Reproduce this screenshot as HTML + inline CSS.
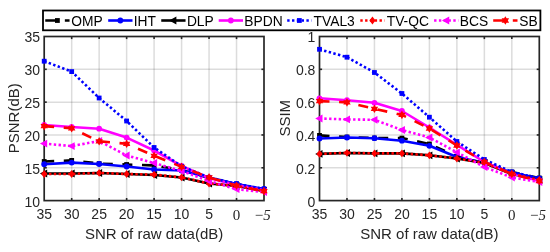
<!DOCTYPE html>
<html><head><meta charset="utf-8"><style>
html,body{margin:0;padding:0;background:#fff;}
body{width:550px;height:252px;overflow:hidden;}
svg{display:block;}
text{font-family:"Liberation Sans",Arial,Helvetica,sans-serif;fill:#000;}
.tk{font-size:14px;fill:#262626;}
.sf{font-family:"Liberation Serif","Times New Roman",serif;font-size:15px;fill:#262626;}
.lb{font-size:15px;fill:#262626;}
.lg{font-size:13.8px;}
</style></head><body>
<svg width="550" height="252" viewBox="0 0 550 252">
<rect width="550" height="252" fill="#fff"/>
<line x1="71.68" y1="36.5" x2="71.68" y2="200.6" stroke="#262626" stroke-opacity="0.16" stroke-width="1.5"/>
<line x1="99.15" y1="36.5" x2="99.15" y2="200.6" stroke="#262626" stroke-opacity="0.16" stroke-width="1.5"/>
<line x1="126.63" y1="36.5" x2="126.63" y2="200.6" stroke="#262626" stroke-opacity="0.16" stroke-width="1.5"/>
<line x1="154.10" y1="36.5" x2="154.10" y2="200.6" stroke="#262626" stroke-opacity="0.16" stroke-width="1.5"/>
<line x1="181.57" y1="36.5" x2="181.57" y2="200.6" stroke="#262626" stroke-opacity="0.16" stroke-width="1.5"/>
<line x1="209.05" y1="36.5" x2="209.05" y2="200.6" stroke="#262626" stroke-opacity="0.16" stroke-width="1.5"/>
<line x1="236.53" y1="36.5" x2="236.53" y2="200.6" stroke="#262626" stroke-opacity="0.16" stroke-width="1.5"/>
<line x1="44.2" y1="69.32" x2="264" y2="69.32" stroke="#262626" stroke-opacity="0.16" stroke-width="1.5"/>
<line x1="44.2" y1="102.14" x2="264" y2="102.14" stroke="#262626" stroke-opacity="0.16" stroke-width="1.5"/>
<line x1="44.2" y1="134.96" x2="264" y2="134.96" stroke="#262626" stroke-opacity="0.16" stroke-width="1.5"/>
<line x1="44.2" y1="167.78" x2="264" y2="167.78" stroke="#262626" stroke-opacity="0.16" stroke-width="1.5"/>
<line x1="346.98" y1="36.5" x2="346.98" y2="200.6" stroke="#262626" stroke-opacity="0.16" stroke-width="1.5"/>
<line x1="374.45" y1="36.5" x2="374.45" y2="200.6" stroke="#262626" stroke-opacity="0.16" stroke-width="1.5"/>
<line x1="401.92" y1="36.5" x2="401.92" y2="200.6" stroke="#262626" stroke-opacity="0.16" stroke-width="1.5"/>
<line x1="429.40" y1="36.5" x2="429.40" y2="200.6" stroke="#262626" stroke-opacity="0.16" stroke-width="1.5"/>
<line x1="456.88" y1="36.5" x2="456.88" y2="200.6" stroke="#262626" stroke-opacity="0.16" stroke-width="1.5"/>
<line x1="484.35" y1="36.5" x2="484.35" y2="200.6" stroke="#262626" stroke-opacity="0.16" stroke-width="1.5"/>
<line x1="511.82" y1="36.5" x2="511.82" y2="200.6" stroke="#262626" stroke-opacity="0.16" stroke-width="1.5"/>
<line x1="319.5" y1="69.32" x2="539.3" y2="69.32" stroke="#262626" stroke-opacity="0.16" stroke-width="1.5"/>
<line x1="319.5" y1="102.14" x2="539.3" y2="102.14" stroke="#262626" stroke-opacity="0.16" stroke-width="1.5"/>
<line x1="319.5" y1="134.96" x2="539.3" y2="134.96" stroke="#262626" stroke-opacity="0.16" stroke-width="1.5"/>
<line x1="319.5" y1="167.78" x2="539.3" y2="167.78" stroke="#262626" stroke-opacity="0.16" stroke-width="1.5"/>
<line x1="71.68" y1="200.6" x2="71.68" y2="198.0" stroke="#262626" stroke-width="1.6"/>
<line x1="71.68" y1="36.5" x2="71.68" y2="39.1" stroke="#262626" stroke-width="1.6"/>
<line x1="99.15" y1="200.6" x2="99.15" y2="198.0" stroke="#262626" stroke-width="1.6"/>
<line x1="99.15" y1="36.5" x2="99.15" y2="39.1" stroke="#262626" stroke-width="1.6"/>
<line x1="126.63" y1="200.6" x2="126.63" y2="198.0" stroke="#262626" stroke-width="1.6"/>
<line x1="126.63" y1="36.5" x2="126.63" y2="39.1" stroke="#262626" stroke-width="1.6"/>
<line x1="154.10" y1="200.6" x2="154.10" y2="198.0" stroke="#262626" stroke-width="1.6"/>
<line x1="154.10" y1="36.5" x2="154.10" y2="39.1" stroke="#262626" stroke-width="1.6"/>
<line x1="181.57" y1="200.6" x2="181.57" y2="198.0" stroke="#262626" stroke-width="1.6"/>
<line x1="181.57" y1="36.5" x2="181.57" y2="39.1" stroke="#262626" stroke-width="1.6"/>
<line x1="209.05" y1="200.6" x2="209.05" y2="198.0" stroke="#262626" stroke-width="1.6"/>
<line x1="209.05" y1="36.5" x2="209.05" y2="39.1" stroke="#262626" stroke-width="1.6"/>
<line x1="236.53" y1="200.6" x2="236.53" y2="198.0" stroke="#262626" stroke-width="1.6"/>
<line x1="236.53" y1="36.5" x2="236.53" y2="39.1" stroke="#262626" stroke-width="1.6"/>
<line x1="44.2" y1="69.32" x2="46.800000000000004" y2="69.32" stroke="#262626" stroke-width="1.6"/>
<line x1="264" y1="69.32" x2="261.4" y2="69.32" stroke="#262626" stroke-width="1.6"/>
<line x1="44.2" y1="102.14" x2="46.800000000000004" y2="102.14" stroke="#262626" stroke-width="1.6"/>
<line x1="264" y1="102.14" x2="261.4" y2="102.14" stroke="#262626" stroke-width="1.6"/>
<line x1="44.2" y1="134.96" x2="46.800000000000004" y2="134.96" stroke="#262626" stroke-width="1.6"/>
<line x1="264" y1="134.96" x2="261.4" y2="134.96" stroke="#262626" stroke-width="1.6"/>
<line x1="44.2" y1="167.78" x2="46.800000000000004" y2="167.78" stroke="#262626" stroke-width="1.6"/>
<line x1="264" y1="167.78" x2="261.4" y2="167.78" stroke="#262626" stroke-width="1.6"/>
<rect x="44.2" y="36.5" width="219.80" height="164.10" fill="none" stroke="#262626" stroke-width="1.7"/>
<line x1="346.98" y1="200.6" x2="346.98" y2="198.0" stroke="#262626" stroke-width="1.6"/>
<line x1="346.98" y1="36.5" x2="346.98" y2="39.1" stroke="#262626" stroke-width="1.6"/>
<line x1="374.45" y1="200.6" x2="374.45" y2="198.0" stroke="#262626" stroke-width="1.6"/>
<line x1="374.45" y1="36.5" x2="374.45" y2="39.1" stroke="#262626" stroke-width="1.6"/>
<line x1="401.92" y1="200.6" x2="401.92" y2="198.0" stroke="#262626" stroke-width="1.6"/>
<line x1="401.92" y1="36.5" x2="401.92" y2="39.1" stroke="#262626" stroke-width="1.6"/>
<line x1="429.40" y1="200.6" x2="429.40" y2="198.0" stroke="#262626" stroke-width="1.6"/>
<line x1="429.40" y1="36.5" x2="429.40" y2="39.1" stroke="#262626" stroke-width="1.6"/>
<line x1="456.88" y1="200.6" x2="456.88" y2="198.0" stroke="#262626" stroke-width="1.6"/>
<line x1="456.88" y1="36.5" x2="456.88" y2="39.1" stroke="#262626" stroke-width="1.6"/>
<line x1="484.35" y1="200.6" x2="484.35" y2="198.0" stroke="#262626" stroke-width="1.6"/>
<line x1="484.35" y1="36.5" x2="484.35" y2="39.1" stroke="#262626" stroke-width="1.6"/>
<line x1="511.82" y1="200.6" x2="511.82" y2="198.0" stroke="#262626" stroke-width="1.6"/>
<line x1="511.82" y1="36.5" x2="511.82" y2="39.1" stroke="#262626" stroke-width="1.6"/>
<line x1="319.5" y1="69.32" x2="322.1" y2="69.32" stroke="#262626" stroke-width="1.6"/>
<line x1="539.3" y1="69.32" x2="536.6999999999999" y2="69.32" stroke="#262626" stroke-width="1.6"/>
<line x1="319.5" y1="102.14" x2="322.1" y2="102.14" stroke="#262626" stroke-width="1.6"/>
<line x1="539.3" y1="102.14" x2="536.6999999999999" y2="102.14" stroke="#262626" stroke-width="1.6"/>
<line x1="319.5" y1="134.96" x2="322.1" y2="134.96" stroke="#262626" stroke-width="1.6"/>
<line x1="539.3" y1="134.96" x2="536.6999999999999" y2="134.96" stroke="#262626" stroke-width="1.6"/>
<line x1="319.5" y1="167.78" x2="322.1" y2="167.78" stroke="#262626" stroke-width="1.6"/>
<line x1="539.3" y1="167.78" x2="536.6999999999999" y2="167.78" stroke="#262626" stroke-width="1.6"/>
<rect x="319.5" y="36.5" width="219.80" height="164.10" fill="none" stroke="#262626" stroke-width="1.7"/>
<polyline points="44.20,161.50 71.68,160.40 99.15,163.60 126.63,164.50 154.10,165.50 181.57,170.00 209.05,178.00 236.53,184.00 264.00,190.00" fill="none" stroke="#000" stroke-width="2.6" stroke-dasharray="10 9.6" stroke-linejoin="round"/>
<rect x="41.80" y="159.10" width="4.8" height="4.8" fill="#000"/>
<rect x="69.28" y="158.00" width="4.8" height="4.8" fill="#000"/>
<rect x="96.75" y="161.20" width="4.8" height="4.8" fill="#000"/>
<rect x="124.23" y="162.10" width="4.8" height="4.8" fill="#000"/>
<rect x="151.70" y="163.10" width="4.8" height="4.8" fill="#000"/>
<rect x="179.17" y="167.60" width="4.8" height="4.8" fill="#000"/>
<rect x="206.65" y="175.60" width="4.8" height="4.8" fill="#000"/>
<rect x="234.13" y="181.60" width="4.8" height="4.8" fill="#000"/>
<rect x="261.60" y="187.60" width="4.8" height="4.8" fill="#000"/>
<polyline points="44.20,164.20 71.68,162.60 99.15,164.00 126.63,166.50 154.10,169.50 181.57,170.50 209.05,177.50 236.53,184.00 264.00,189.00" fill="none" stroke="#0000ff" stroke-width="2.6" stroke-linejoin="round"/>
<circle cx="44.20" cy="164.20" r="2.9" fill="#0000ff"/>
<circle cx="71.68" cy="162.60" r="2.9" fill="#0000ff"/>
<circle cx="99.15" cy="164.00" r="2.9" fill="#0000ff"/>
<circle cx="126.63" cy="166.50" r="2.9" fill="#0000ff"/>
<circle cx="154.10" cy="169.50" r="2.9" fill="#0000ff"/>
<circle cx="181.57" cy="170.50" r="2.9" fill="#0000ff"/>
<circle cx="209.05" cy="177.50" r="2.9" fill="#0000ff"/>
<circle cx="236.53" cy="184.00" r="2.9" fill="#0000ff"/>
<circle cx="264.00" cy="189.00" r="2.9" fill="#0000ff"/>
<polyline points="44.20,173.50 71.68,173.50 99.15,173.00 126.63,174.00 154.10,175.00 181.57,177.50 209.05,183.50 236.53,186.00 264.00,191.00" fill="none" stroke="#000" stroke-width="2.6" stroke-linejoin="round"/>
<polygon points="39.90,173.50 47.20,169.60 47.20,177.40" fill="#000"/>
<polygon points="67.38,173.50 74.68,169.60 74.68,177.40" fill="#000"/>
<polygon points="94.85,173.00 102.15,169.10 102.15,176.90" fill="#000"/>
<polygon points="122.33,174.00 129.62,170.10 129.62,177.90" fill="#000"/>
<polygon points="149.80,175.00 157.10,171.10 157.10,178.90" fill="#000"/>
<polygon points="177.27,177.50 184.57,173.60 184.57,181.40" fill="#000"/>
<polygon points="204.75,183.50 212.05,179.60 212.05,187.40" fill="#000"/>
<polygon points="232.23,186.00 239.53,182.10 239.53,189.90" fill="#000"/>
<polygon points="259.70,191.00 267.00,187.10 267.00,194.90" fill="#000"/>
<polyline points="44.20,125.00 71.68,127.00 99.15,128.70 126.63,137.60 154.10,150.50 181.57,166.00 209.05,178.00 236.53,185.00 264.00,190.00" fill="none" stroke="#ff00ff" stroke-width="2.6" stroke-linejoin="round"/>
<circle cx="44.20" cy="125.00" r="2.9" fill="#ff00ff"/>
<circle cx="71.68" cy="127.00" r="2.9" fill="#ff00ff"/>
<circle cx="99.15" cy="128.70" r="2.9" fill="#ff00ff"/>
<circle cx="126.63" cy="137.60" r="2.9" fill="#ff00ff"/>
<circle cx="154.10" cy="150.50" r="2.9" fill="#ff00ff"/>
<circle cx="181.57" cy="166.00" r="2.9" fill="#ff00ff"/>
<circle cx="209.05" cy="178.00" r="2.9" fill="#ff00ff"/>
<circle cx="236.53" cy="185.00" r="2.9" fill="#ff00ff"/>
<circle cx="264.00" cy="190.00" r="2.9" fill="#ff00ff"/>
<polyline points="44.20,61.20 71.68,71.60 99.15,98.00 126.63,121.00 154.10,147.50 181.57,166.30 209.05,177.50 236.53,183.80 264.00,189.00" fill="none" stroke="#0000ff" stroke-width="2.6" stroke-dasharray="2.4 2.4" stroke-linejoin="round"/>
<rect x="41.80" y="58.80" width="4.8" height="4.8" fill="#0000ff"/>
<rect x="69.28" y="69.20" width="4.8" height="4.8" fill="#0000ff"/>
<rect x="96.75" y="95.60" width="4.8" height="4.8" fill="#0000ff"/>
<rect x="124.23" y="118.60" width="4.8" height="4.8" fill="#0000ff"/>
<rect x="151.70" y="145.10" width="4.8" height="4.8" fill="#0000ff"/>
<rect x="179.17" y="163.90" width="4.8" height="4.8" fill="#0000ff"/>
<rect x="206.65" y="175.10" width="4.8" height="4.8" fill="#0000ff"/>
<rect x="234.13" y="181.40" width="4.8" height="4.8" fill="#0000ff"/>
<rect x="261.60" y="186.60" width="4.8" height="4.8" fill="#0000ff"/>
<polyline points="44.20,174.00 71.68,174.00 99.15,172.90 126.63,174.00 154.10,174.60 181.57,177.40 209.05,183.50 236.53,186.00 264.00,191.20" fill="none" stroke="#ff0000" stroke-width="2.6" stroke-dasharray="2.4 2.4" stroke-linejoin="round"/>
<polygon points="44.20,170.10 47.24,174.00 44.20,177.90 41.16,174.00" fill="#ff0000"/>
<polygon points="71.68,170.10 74.72,174.00 71.68,177.90 68.63,174.00" fill="#ff0000"/>
<polygon points="99.15,169.00 102.19,172.90 99.15,176.80 96.11,172.90" fill="#ff0000"/>
<polygon points="126.63,170.10 129.67,174.00 126.63,177.90 123.58,174.00" fill="#ff0000"/>
<polygon points="154.10,170.70 157.14,174.60 154.10,178.50 151.06,174.60" fill="#ff0000"/>
<polygon points="181.57,173.50 184.62,177.40 181.57,181.30 178.53,177.40" fill="#ff0000"/>
<polygon points="209.05,179.60 212.09,183.50 209.05,187.40 206.01,183.50" fill="#ff0000"/>
<polygon points="236.53,182.10 239.57,186.00 236.53,189.90 233.48,186.00" fill="#ff0000"/>
<polygon points="264.00,187.30 267.04,191.20 264.00,195.10 260.96,191.20" fill="#ff0000"/>
<polyline points="44.20,143.60 71.68,146.10 99.15,141.00 126.63,155.50 154.10,163.00 181.57,171.00 209.05,181.00 236.53,189.20 264.00,192.00" fill="none" stroke="#ff00ff" stroke-width="2.6" stroke-dasharray="2.4 2.4" stroke-linejoin="round"/>
<polygon points="39.90,143.60 47.20,139.70 47.20,147.50" fill="#ff00ff"/>
<polygon points="67.38,146.10 74.68,142.20 74.68,150.00" fill="#ff00ff"/>
<polygon points="94.85,141.00 102.15,137.10 102.15,144.90" fill="#ff00ff"/>
<polygon points="122.33,155.50 129.62,151.60 129.62,159.40" fill="#ff00ff"/>
<polygon points="149.80,163.00 157.10,159.10 157.10,166.90" fill="#ff00ff"/>
<polygon points="177.27,171.00 184.57,167.10 184.57,174.90" fill="#ff00ff"/>
<polygon points="204.75,181.00 212.05,177.10 212.05,184.90" fill="#ff00ff"/>
<polygon points="232.23,189.20 239.53,185.30 239.53,193.10" fill="#ff00ff"/>
<polygon points="259.70,192.00 267.00,188.10 267.00,195.90" fill="#ff00ff"/>
<polyline points="44.20,126.10 71.68,128.30 99.15,141.30 126.63,143.80 154.10,155.80 181.57,166.90 209.05,177.40 236.53,185.70 264.00,191.20" fill="none" stroke="#ff0000" stroke-width="2.6" stroke-dasharray="10 9.6" stroke-linejoin="round"/>
<polygon points="44.20,121.80 45.44,123.95 47.92,123.95 46.68,126.10 47.92,128.25 45.44,128.25 44.20,130.40 42.96,128.25 40.48,128.25 41.72,126.10 40.48,123.95 42.96,123.95" fill="#ff0000"/>
<polygon points="71.68,124.00 72.92,126.15 75.40,126.15 74.16,128.30 75.40,130.45 72.92,130.45 71.68,132.60 70.43,130.45 67.95,130.45 69.19,128.30 67.95,126.15 70.43,126.15" fill="#ff0000"/>
<polygon points="99.15,137.00 100.39,139.15 102.87,139.15 101.63,141.30 102.87,143.45 100.39,143.45 99.15,145.60 97.91,143.45 95.43,143.45 96.67,141.30 95.43,139.15 97.91,139.15" fill="#ff0000"/>
<polygon points="126.63,139.50 127.87,141.65 130.35,141.65 129.11,143.80 130.35,145.95 127.87,145.95 126.63,148.10 125.38,145.95 122.90,145.95 124.14,143.80 122.90,141.65 125.38,141.65" fill="#ff0000"/>
<polygon points="154.10,151.50 155.34,153.65 157.82,153.65 156.58,155.80 157.82,157.95 155.34,157.95 154.10,160.10 152.86,157.95 150.38,157.95 151.62,155.80 150.38,153.65 152.86,153.65" fill="#ff0000"/>
<polygon points="181.57,162.60 182.82,164.75 185.30,164.75 184.06,166.90 185.30,169.05 182.82,169.05 181.57,171.20 180.33,169.05 177.85,169.05 179.09,166.90 177.85,164.75 180.33,164.75" fill="#ff0000"/>
<polygon points="209.05,173.10 210.29,175.25 212.77,175.25 211.53,177.40 212.77,179.55 210.29,179.55 209.05,181.70 207.81,179.55 205.33,179.55 206.57,177.40 205.33,175.25 207.81,175.25" fill="#ff0000"/>
<polygon points="236.53,181.40 237.77,183.55 240.25,183.55 239.01,185.70 240.25,187.85 237.77,187.85 236.53,190.00 235.28,187.85 232.80,187.85 234.04,185.70 232.80,183.55 235.28,183.55" fill="#ff0000"/>
<polygon points="264.00,186.90 265.24,189.05 267.72,189.05 266.48,191.20 267.72,193.35 265.24,193.35 264.00,195.50 262.76,193.35 260.28,193.35 261.52,191.20 260.28,189.05 262.76,189.05" fill="#ff0000"/>
<polyline points="319.50,135.40 346.98,137.00 374.45,138.00 401.92,138.10 429.40,144.00 456.88,156.50 484.35,163.00 511.82,172.00 539.30,178.00" fill="none" stroke="#000" stroke-width="2.6" stroke-dasharray="10 9.6" stroke-linejoin="round"/>
<rect x="317.10" y="133.00" width="4.8" height="4.8" fill="#000"/>
<rect x="344.58" y="134.60" width="4.8" height="4.8" fill="#000"/>
<rect x="372.05" y="135.60" width="4.8" height="4.8" fill="#000"/>
<rect x="399.52" y="135.70" width="4.8" height="4.8" fill="#000"/>
<rect x="427.00" y="141.60" width="4.8" height="4.8" fill="#000"/>
<rect x="454.48" y="154.10" width="4.8" height="4.8" fill="#000"/>
<rect x="481.95" y="160.60" width="4.8" height="4.8" fill="#000"/>
<rect x="509.42" y="169.60" width="4.8" height="4.8" fill="#000"/>
<rect x="536.90" y="175.60" width="4.8" height="4.8" fill="#000"/>
<polyline points="319.50,138.50 346.98,137.50 374.45,138.20 401.92,140.70 429.40,145.80 456.88,157.00 484.35,163.00 511.82,172.50 539.30,178.50" fill="none" stroke="#0000ff" stroke-width="2.6" stroke-linejoin="round"/>
<circle cx="319.50" cy="138.50" r="2.9" fill="#0000ff"/>
<circle cx="346.98" cy="137.50" r="2.9" fill="#0000ff"/>
<circle cx="374.45" cy="138.20" r="2.9" fill="#0000ff"/>
<circle cx="401.92" cy="140.70" r="2.9" fill="#0000ff"/>
<circle cx="429.40" cy="145.80" r="2.9" fill="#0000ff"/>
<circle cx="456.88" cy="157.00" r="2.9" fill="#0000ff"/>
<circle cx="484.35" cy="163.00" r="2.9" fill="#0000ff"/>
<circle cx="511.82" cy="172.50" r="2.9" fill="#0000ff"/>
<circle cx="539.30" cy="178.50" r="2.9" fill="#0000ff"/>
<polyline points="319.50,153.90 346.98,153.00 374.45,153.40 401.92,153.40 429.40,155.30 456.88,158.50 484.35,163.00 511.82,174.00 539.30,180.00" fill="none" stroke="#000" stroke-width="2.6" stroke-linejoin="round"/>
<polygon points="315.20,153.90 322.50,150.00 322.50,157.80" fill="#000"/>
<polygon points="342.68,153.00 349.98,149.10 349.98,156.90" fill="#000"/>
<polygon points="370.15,153.40 377.45,149.50 377.45,157.30" fill="#000"/>
<polygon points="397.62,153.40 404.92,149.50 404.92,157.30" fill="#000"/>
<polygon points="425.10,155.30 432.40,151.40 432.40,159.20" fill="#000"/>
<polygon points="452.57,158.50 459.88,154.60 459.88,162.40" fill="#000"/>
<polygon points="480.05,163.00 487.35,159.10 487.35,166.90" fill="#000"/>
<polygon points="507.52,174.00 514.82,170.10 514.82,177.90" fill="#000"/>
<polygon points="535.00,180.00 542.30,176.10 542.30,183.90" fill="#000"/>
<polyline points="319.50,98.30 346.98,100.20 374.45,102.80 401.92,111.00 429.40,127.50 456.88,144.80 484.35,162.00 511.82,173.50 539.30,181.00" fill="none" stroke="#ff00ff" stroke-width="2.6" stroke-linejoin="round"/>
<circle cx="319.50" cy="98.30" r="2.9" fill="#ff00ff"/>
<circle cx="346.98" cy="100.20" r="2.9" fill="#ff00ff"/>
<circle cx="374.45" cy="102.80" r="2.9" fill="#ff00ff"/>
<circle cx="401.92" cy="111.00" r="2.9" fill="#ff00ff"/>
<circle cx="429.40" cy="127.50" r="2.9" fill="#ff00ff"/>
<circle cx="456.88" cy="144.80" r="2.9" fill="#ff00ff"/>
<circle cx="484.35" cy="162.00" r="2.9" fill="#ff00ff"/>
<circle cx="511.82" cy="173.50" r="2.9" fill="#ff00ff"/>
<circle cx="539.30" cy="181.00" r="2.9" fill="#ff00ff"/>
<polyline points="319.50,49.30 346.98,57.20 374.45,72.50 401.92,93.50 429.40,117.20 456.88,141.50 484.35,159.50 511.82,172.00 539.30,178.30" fill="none" stroke="#0000ff" stroke-width="2.6" stroke-dasharray="2.4 2.4" stroke-linejoin="round"/>
<rect x="317.10" y="46.90" width="4.8" height="4.8" fill="#0000ff"/>
<rect x="344.58" y="54.80" width="4.8" height="4.8" fill="#0000ff"/>
<rect x="372.05" y="70.10" width="4.8" height="4.8" fill="#0000ff"/>
<rect x="399.52" y="91.10" width="4.8" height="4.8" fill="#0000ff"/>
<rect x="427.00" y="114.80" width="4.8" height="4.8" fill="#0000ff"/>
<rect x="454.48" y="139.10" width="4.8" height="4.8" fill="#0000ff"/>
<rect x="481.95" y="157.10" width="4.8" height="4.8" fill="#0000ff"/>
<rect x="509.42" y="169.60" width="4.8" height="4.8" fill="#0000ff"/>
<rect x="536.90" y="175.90" width="4.8" height="4.8" fill="#0000ff"/>
<polyline points="319.50,153.90 346.98,152.80 374.45,153.40 401.92,153.40 429.40,155.30 456.88,158.50 484.35,163.00 511.82,174.00 539.30,180.00" fill="none" stroke="#ff0000" stroke-width="2.6" stroke-dasharray="2.4 2.4" stroke-linejoin="round"/>
<polygon points="319.50,150.00 322.54,153.90 319.50,157.80 316.46,153.90" fill="#ff0000"/>
<polygon points="346.98,148.90 350.02,152.80 346.98,156.70 343.93,152.80" fill="#ff0000"/>
<polygon points="374.45,149.50 377.49,153.40 374.45,157.30 371.41,153.40" fill="#ff0000"/>
<polygon points="401.92,149.50 404.97,153.40 401.92,157.30 398.88,153.40" fill="#ff0000"/>
<polygon points="429.40,151.40 432.44,155.30 429.40,159.20 426.36,155.30" fill="#ff0000"/>
<polygon points="456.88,154.60 459.92,158.50 456.88,162.40 453.83,158.50" fill="#ff0000"/>
<polygon points="484.35,159.10 487.39,163.00 484.35,166.90 481.31,163.00" fill="#ff0000"/>
<polygon points="511.82,170.10 514.87,174.00 511.82,177.90 508.78,174.00" fill="#ff0000"/>
<polygon points="539.30,176.10 542.34,180.00 539.30,183.90 536.26,180.00" fill="#ff0000"/>
<polyline points="319.50,118.50 346.98,119.40 374.45,119.80 401.92,130.00 429.40,137.50 456.88,152.30 484.35,167.00 511.82,177.50 539.30,182.00" fill="none" stroke="#ff00ff" stroke-width="2.6" stroke-dasharray="2.4 2.4" stroke-linejoin="round"/>
<polygon points="315.20,118.50 322.50,114.60 322.50,122.40" fill="#ff00ff"/>
<polygon points="342.68,119.40 349.98,115.50 349.98,123.30" fill="#ff00ff"/>
<polygon points="370.15,119.80 377.45,115.90 377.45,123.70" fill="#ff00ff"/>
<polygon points="397.62,130.00 404.92,126.10 404.92,133.90" fill="#ff00ff"/>
<polygon points="425.10,137.50 432.40,133.60 432.40,141.40" fill="#ff00ff"/>
<polygon points="452.57,152.30 459.88,148.40 459.88,156.20" fill="#ff00ff"/>
<polygon points="480.05,167.00 487.35,163.10 487.35,170.90" fill="#ff00ff"/>
<polygon points="507.52,177.50 514.82,173.60 514.82,181.40" fill="#ff00ff"/>
<polygon points="535.00,182.00 542.30,178.10 542.30,185.90" fill="#ff00ff"/>
<polyline points="319.50,101.10 346.98,102.40 374.45,108.80 401.92,114.90 429.40,128.50 456.88,145.50 484.35,161.80 511.82,174.00 539.30,181.00" fill="none" stroke="#ff0000" stroke-width="2.6" stroke-dasharray="10 9.6" stroke-linejoin="round"/>
<polygon points="319.50,96.80 320.74,98.95 323.22,98.95 321.98,101.10 323.22,103.25 320.74,103.25 319.50,105.40 318.26,103.25 315.78,103.25 317.02,101.10 315.78,98.95 318.26,98.95" fill="#ff0000"/>
<polygon points="346.98,98.10 348.22,100.25 350.70,100.25 349.46,102.40 350.70,104.55 348.22,104.55 346.98,106.70 345.73,104.55 343.25,104.55 344.49,102.40 343.25,100.25 345.73,100.25" fill="#ff0000"/>
<polygon points="374.45,104.50 375.69,106.65 378.17,106.65 376.93,108.80 378.17,110.95 375.69,110.95 374.45,113.10 373.21,110.95 370.73,110.95 371.97,108.80 370.73,106.65 373.21,106.65" fill="#ff0000"/>
<polygon points="401.92,110.60 403.17,112.75 405.65,112.75 404.41,114.90 405.65,117.05 403.17,117.05 401.92,119.20 400.68,117.05 398.20,117.05 399.44,114.90 398.20,112.75 400.68,112.75" fill="#ff0000"/>
<polygon points="429.40,124.20 430.64,126.35 433.12,126.35 431.88,128.50 433.12,130.65 430.64,130.65 429.40,132.80 428.16,130.65 425.68,130.65 426.92,128.50 425.68,126.35 428.16,126.35" fill="#ff0000"/>
<polygon points="456.88,141.20 458.12,143.35 460.60,143.35 459.36,145.50 460.60,147.65 458.12,147.65 456.88,149.80 455.63,147.65 453.15,147.65 454.39,145.50 453.15,143.35 455.63,143.35" fill="#ff0000"/>
<polygon points="484.35,157.50 485.59,159.65 488.07,159.65 486.83,161.80 488.07,163.95 485.59,163.95 484.35,166.10 483.11,163.95 480.63,163.95 481.87,161.80 480.63,159.65 483.11,159.65" fill="#ff0000"/>
<polygon points="511.82,169.70 513.07,171.85 515.55,171.85 514.31,174.00 515.55,176.15 513.07,176.15 511.82,178.30 510.58,176.15 508.10,176.15 509.34,174.00 508.10,171.85 510.58,171.85" fill="#ff0000"/>
<polygon points="539.30,176.70 540.54,178.85 543.02,178.85 541.78,181.00 543.02,183.15 540.54,183.15 539.30,185.30 538.06,183.15 535.58,183.15 536.82,181.00 535.58,178.85 538.06,178.85" fill="#ff0000"/>
<text x="44.20" y="218.6" text-anchor="middle" class="tk">35</text>
<text x="71.68" y="218.6" text-anchor="middle" class="tk">30</text>
<text x="99.15" y="218.6" text-anchor="middle" class="tk">25</text>
<text x="126.63" y="218.6" text-anchor="middle" class="tk">20</text>
<text x="154.10" y="218.6" text-anchor="middle" class="tk">15</text>
<text x="181.57" y="218.6" text-anchor="middle" class="tk">10</text>
<text x="209.05" y="218.6" text-anchor="middle" class="tk">5</text>
<text x="236.53" y="219.79999999999998" text-anchor="middle" class="sf">0</text>
<text x="262.70" y="219.79999999999998" text-anchor="middle" class="sf">−<tspan font-style="italic">5</tspan></text>
<text x="40.10" y="41.90" text-anchor="end" class="tk">35</text>
<text x="40.10" y="74.94" text-anchor="end" class="tk">30</text>
<text x="40.10" y="107.98" text-anchor="end" class="tk">25</text>
<text x="40.10" y="141.02" text-anchor="end" class="tk">20</text>
<text x="40.10" y="174.06" text-anchor="end" class="tk">15</text>
<text x="40.10" y="207.10" text-anchor="end" class="tk">10</text>
<text x="154.10" y="239.0" text-anchor="middle" class="lb">SNR of raw data(dB)</text>
<text transform="translate(18.5,118.25) rotate(-90)" x="0" y="0" text-anchor="middle" class="lb">PSNR(dB)</text>
<text x="319.50" y="218.6" text-anchor="middle" class="tk">35</text>
<text x="346.98" y="218.6" text-anchor="middle" class="tk">30</text>
<text x="374.45" y="218.6" text-anchor="middle" class="tk">25</text>
<text x="401.92" y="218.6" text-anchor="middle" class="tk">20</text>
<text x="429.40" y="218.6" text-anchor="middle" class="tk">15</text>
<text x="456.88" y="218.6" text-anchor="middle" class="tk">10</text>
<text x="484.35" y="218.6" text-anchor="middle" class="tk">5</text>
<text x="511.82" y="219.79999999999998" text-anchor="middle" class="sf">0</text>
<text x="538.00" y="219.79999999999998" text-anchor="middle" class="sf">−<tspan font-style="italic">5</tspan></text>
<text x="315.40" y="41.90" text-anchor="end" class="tk">1</text>
<text x="315.40" y="74.94" text-anchor="end" class="tk">0.8</text>
<text x="315.40" y="107.98" text-anchor="end" class="tk">0.6</text>
<text x="315.40" y="141.02" text-anchor="end" class="tk">0.4</text>
<text x="315.40" y="174.06" text-anchor="end" class="tk">0.2</text>
<text x="315.40" y="207.10" text-anchor="end" class="tk">0</text>
<text x="429.40" y="239.0" text-anchor="middle" class="lb">SNR of raw data(dB)</text>
<text transform="translate(290,118.25) rotate(-90)" x="0" y="0" text-anchor="middle" class="lb">SSIM</text>
<rect x="43" y="10.5" width="497.4" height="19.8" fill="#fff" stroke="#000" stroke-width="1.8"/>
<line x1="45.25" y1="20.5" x2="69.55" y2="20.5" stroke="#000" stroke-width="2.6" stroke-dasharray="10 9.6"/>
<rect x="55.00" y="18.10" width="4.8" height="4.8" fill="#000"/>
<text x="71.33" y="25.9" class="lg">OMP</text>
<line x1="108.2" y1="20.5" x2="132.5" y2="20.5" stroke="#0000ff" stroke-width="2.6"/>
<circle cx="120.35" cy="20.50" r="2.9" fill="#0000ff"/>
<text x="133.70000000000002" y="25.9" class="lg">IHT</text>
<line x1="161.24999999999997" y1="20.5" x2="185.54999999999998" y2="20.5" stroke="#000" stroke-width="2.6"/>
<polygon points="169.10,20.50 176.40,16.60 176.40,24.40" fill="#000"/>
<text x="186.88" y="25.9" class="lg">DLP</text>
<line x1="218.7" y1="20.5" x2="243.0" y2="20.5" stroke="#ff00ff" stroke-width="2.6"/>
<circle cx="230.85" cy="20.50" r="2.9" fill="#ff00ff"/>
<text x="244.33" y="25.9" class="lg">BPDN</text>
<line x1="287.2" y1="20.5" x2="311.5" y2="20.5" stroke="#0000ff" stroke-width="2.6" stroke-dasharray="2.4 2.4"/>
<rect x="296.95" y="18.10" width="4.8" height="4.8" fill="#0000ff"/>
<text x="313.60999999999996" y="25.9" class="lg">TVAL3</text>
<line x1="360.3" y1="20.5" x2="384.6" y2="20.5" stroke="#ff0000" stroke-width="2.6" stroke-dasharray="2.4 2.4"/>
<polygon points="372.45,16.60 375.49,20.50 372.45,24.40 369.41,20.50" fill="#ff0000"/>
<text x="386.71" y="25.9" class="lg">TV-QC</text>
<line x1="434.1" y1="20.5" x2="458.40000000000003" y2="20.5" stroke="#ff00ff" stroke-width="2.6" stroke-dasharray="2.4 2.4"/>
<polygon points="441.95,20.50 449.25,16.60 449.25,24.40" fill="#ff00ff"/>
<text x="459.73" y="25.9" class="lg">BCS</text>
<line x1="493.2" y1="20.5" x2="517.5" y2="20.5" stroke="#ff0000" stroke-width="2.6" stroke-dasharray="10 9.6"/>
<polygon points="505.35,16.20 506.59,18.35 509.07,18.35 507.83,20.50 509.07,22.65 506.59,22.65 505.35,24.80 504.11,22.65 501.63,22.65 502.87,20.50 501.63,18.35 504.11,18.35" fill="#ff0000"/>
<text x="519.31" y="25.9" class="lg">SB</text>
</svg>
</body></html>
